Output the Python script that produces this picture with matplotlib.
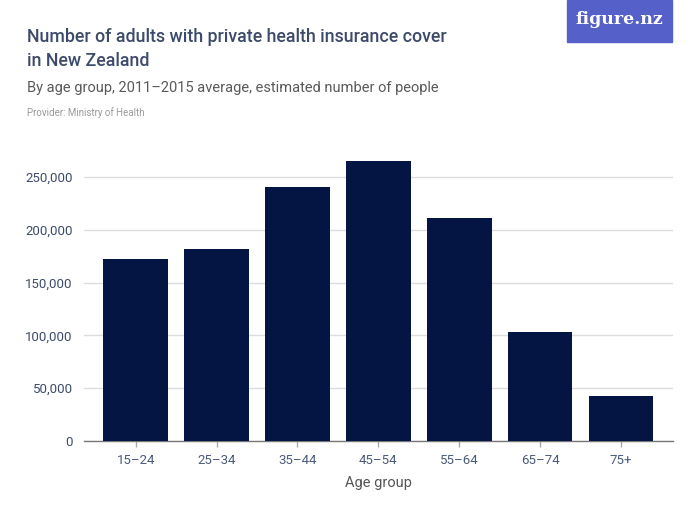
import matplotlib
matplotlib.use('Agg')
import matplotlib.pyplot as plt
from matplotlib.patches import Rectangle
from matplotlib.ticker import FuncFormatter

age_groups = ['15–24', '25–34', '35–44', '45–54', '55–64', '65–74', '75+']
people = [172000, 182000, 241000, 265000, 211000, 103000, 42600]
y_ticks = [0, 50000, 100000, 150000, 200000, 250000]

plt.rcParams['font.family'] = ['Roboto', 'DejaVu Sans']

fig = plt.figure(figsize=(7, 5.25), dpi=100)
ax = fig.add_axes([0.12, 0.16, 0.841, 0.543])

ax.bar(range(len(age_groups)), people, width=0.8, color='#041443', zorder=3)
ax.set_xlim(-0.64, len(age_groups) - 1 + 0.64)
ax.set_ylim(0, 270000)
ax.set_yticks(y_ticks)
ax.yaxis.set_major_formatter(FuncFormatter(lambda v, p: f'{int(v):,}'))
ax.set_xticks(range(len(age_groups)))
ax.set_xticklabels(age_groups)

ax.grid(axis='y', color='#dddddd', linewidth=1, zorder=0)
for s in ['top', 'right', 'left']:
    ax.spines[s].set_visible(False)
ax.spines['bottom'].set_color('#777777')
ax.spines['bottom'].set_linewidth(1)
ax.tick_params(axis='y', length=0, pad=8, labelsize=9.5, labelcolor='#3d4b6b')
ax.tick_params(axis='x', length=4, width=1, color='#aaaaaa', pad=5,
               labelsize=9.5, labelcolor='#4a5a7a')
ax.set_xlabel('Age group', fontsize=10.5, color='#555555', labelpad=7)

# header text
fig.text(27 / 700, 1 - 49 / 525, 'Number of adults with private health insurance cover\nin New Zealand',
         fontsize=12.8, fontweight='medium', color='#3d4b6b', va='center', linespacing=1.4)
fig.text(27 / 700, 1 - 88 / 525, 'By age group, 2011–2015 average, estimated number of people',
         fontsize=10.5, color='#5a5a5a', va='center')
fig.text(27 / 700, 1 - 113 / 525, 'Provider: Ministry of Health',
         fontsize=7, color='#999999', va='center')

# logo
fig.patches.append(Rectangle((567 / 700, 1 - 42 / 525), 105 / 700, 42 / 525,
                             transform=fig.transFigure, color='#5560c8'))
fig.text(619 / 700, 1 - 19 / 525, 'figure.nz', fontsize=12.5, fontweight='bold',
         family=['DejaVu Serif'], color='white', ha='center', va='center')

fig.savefig('out.png', dpi=100)
